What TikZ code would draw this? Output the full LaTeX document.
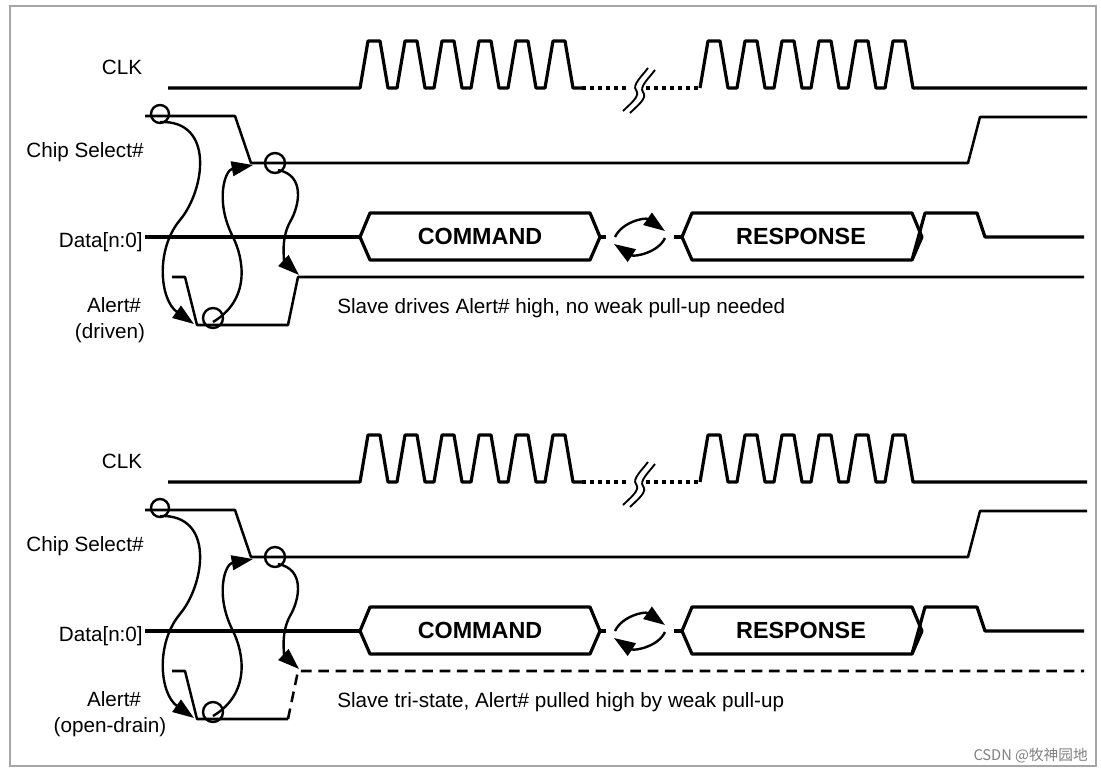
\documentclass[tikz,border=0pt]{standalone}
\usepackage{fontspec}
\setmainfont{Liberation Sans}
\newfontfamily\cjk{Noto Sans CJK SC}
\usetikzlibrary{arrows.meta}
\begin{document}
\begin{tikzpicture}[x=0.75pt,y=-0.75pt,
  sig/.style={line width=2.4pt,line join=round},
  thin/.style={line width=1.9pt,line join=round},
  lbl/.style={font=\fontsize{15.5pt}{18pt}\selectfont,inner sep=0pt},
  box/.style={font=\bfseries\fontsize{17.5pt}{20pt}\selectfont,inner sep=0pt},
  arr/.style={line width=1.8pt,-{Triangle[length=16pt,width=11pt]}},
  ring/.style={line width=1.8pt}]
\useasboundingbox (0,0) rectangle (1101,775);
\draw[line width=0.8pt,gray!70] (10,6) rectangle (1096,766);
\node[font=\cjk\fontsize{11pt}{12pt}\selectfont,text=gray,anchor=east,inner sep=0pt] (wm) at (1088,756) {CSDN @牧神园地};
\foreach \o/\alt/\txt in {0/0/{(driven)},394/1/{(open-drain)}}{
\begin{scope}[yshift=-\o*0.75pt]
 \node[lbl] (clk) at (122,67) {CLK};
 \node[lbl] (cs) at (85,152) {Chip Select\#};
 \node[lbl,anchor=east] (dt) at (143,242) {Data[n:0]};
 \node[lbl] (al) at (114,305) {Alert\#};
 \node[lbl] (al2) at (110,333) {\txt};
 % CLK
 \draw[sig] (168,88) -- (360,88)
   \foreach \k in {0,...,5}{ -- ++(8,-47) -- ++(12,0) -- ++(8,47) -- ++(9,0)} ;
 \draw[sig,dash pattern=on 3pt off 3pt] (582,88) -- (700,88);
 \draw[sig] (700,88) \foreach \k in {0,...,5}{ -- ++(8,-47) -- ++(12,0) -- ++(8,47) -- ++(9,0)} -- (1087,88);
 \fill[white] (630,84) rectangle (646,92);
 \draw[line width=1.4pt] (623,111) .. controls (630,104) and (641,96) .. (636,90) .. controls (632,85) and (642,76) .. (648,68);
 \draw[line width=1.4pt] (630,113) .. controls (637,106) and (648,98) .. (643,92) .. controls (639,87) and (649,78) .. (655,70);
 % chip select
 \draw[thin] (145,116) -- (235,116) -- (251,163) -- (968,163) -- (980,117) -- (1087,117);
 \draw[ring] (160,114) circle (9);
 \draw[ring] (275,163) circle (10);
 % data
 \draw[sig] (145,237) -- (360,237);
 \draw[sig,fill=white] (360,237) -- (370,213) -- (590,213) -- (600,237) -- (590,260) -- (370,260) -- cycle;
 \node[box] (cmd) at (480,236) {COMMAND};
 \draw[sig] (600,237) -- (606,237);
 \draw[sig] (674,237) -- (682,237);
 \draw[sig] (682,237) -- (692,213) -- (912,213) -- (922,237) -- (912,260) -- (692,260) -- cycle;
 \node[box] (rsp) at (801,236) {RESPONSE};
 \draw[sig] (912,260) -- (925,213) -- (977,213) -- (985,237) -- (1084,237);
 \draw[arr] (615,237) .. controls (622,222) and (645,217) .. (665,231);
 \draw[arr] (665,238) .. controls (658,253) and (634,257) .. (614,244);
 % alert
 \ifnum\alt=0
  \draw[thin] (172,277) -- (185,277) -- (197,325) -- (288,325) -- (298,277) -- (1084,277);
 \else
  \draw[thin] (172,277) -- (185,277) -- (197,325) -- (288,325);
  \draw[thin,dash pattern=on 8pt off 5pt] (288,325) -- (298,277) -- (1084,277);
 \fi
 \draw[ring] (213,318) circle (10);
 \node[lbl,anchor=west] (note) at (337,308) {\ifnum\alt=0 Slave drives Alert\# high, no weak pull-up needed\else Slave tri-state, Alert\# pulled high by weak pull-up\fi};
 % causal arrows
 \draw[arr] (160,122) .. controls (215,120) and (205,190) .. (180,220)
   .. controls (155,250) and (160,300) .. (194,324);
 \draw[arr] (213,322) .. controls (250,300) and (245,260) .. (232,235)
   .. controls (215,200) and (225,170) .. (253,165);
 \draw[arr] (278,170) .. controls (305,175) and (300,205) .. (290,222)
   .. controls (280,240) and (285,262) .. (299,275);
\end{scope}}
\end{tikzpicture}
\end{document}
